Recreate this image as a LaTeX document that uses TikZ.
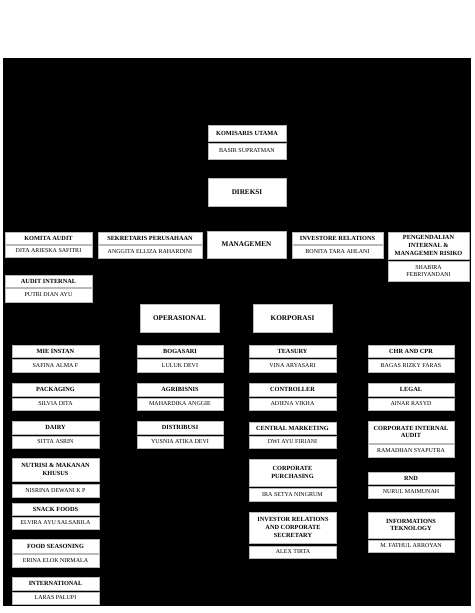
\documentclass[tikz,border=0pt]{standalone}
\usepackage{fontspec}
\setmainfont{Liberation Serif}
\usepackage{tikz}
\usetikzlibrary{positioning}

\begin{document}
\begin{tikzpicture}[
    x=1pt, y=-1pt,
    titlebox/.style = {rectangle, draw=gray!55, line width=0.6pt, fill=white, align=center, inner sep=0pt, font=\fontsize{6.3}{7.6}\selectfont\bfseries, minimum width=87pt, minimum height=12pt},
    namebox/.style = {rectangle, draw=gray!55, line width=0.6pt, fill=white, align=center, inner sep=0pt, font=\fontsize{6}{7.4}\selectfont, minimum width=87pt, minimum height=13pt},
    headbox/.style = {rectangle, draw=gray!55, line width=0.6pt, fill=white, align=center, inner sep=0pt, font=\fontsize{7.2}{8.5}\selectfont\bfseries, minimum width=79pt, minimum height=28pt}
]
\useasboundingbox (0,0) rectangle (474,613);
\fill[black] (3,58) rectangle (471,606);

% Top: Komisaris and Direksi
\node (komisaris) [titlebox, minimum width=78pt, minimum height=16pt] at (247, 133) {KOMISARIS UTAMA};
\node (komisaris_nm) [namebox, minimum width=78pt, minimum height=16pt] at (247, 151) {BASIR SUPRATMAN};
\node (direksi) [headbox, minimum width=78pt] at (247, 192) {DIREKSI};

% Row under Direksi
\node (komite) [titlebox] at (48.5, 238) {KOMITA AUDIT};
\node (komite_nm) [namebox, minimum height=12pt] at (48.5, 251) {DITA ARIESKA SAFITRI};
\node (sekretaris) [titlebox, minimum width=104pt] at (150, 238) {SEKRETARIS PERUSAHAAN};
\node (sekretaris_nm) [namebox, minimum width=104pt] at (150, 251.5) {ANGGITA ELLIZA RAHARDINI};
\node (managemen) [headbox, minimum height=27pt] at (246.5, 244.5) {MANAGEMEN};
\node (investore) [titlebox, minimum width=91pt] at (337.5, 238) {INVESTORE RELATIONS};
\node (investore_nm) [namebox, minimum width=91pt] at (337.5, 251.5) {BONITA TARA AHLANI};
\node (pengendalian) [titlebox, minimum width=81pt, minimum height=27pt] at (428.5, 245.5) {PENGENDALIAN\\INTERNAL \&\\MANAGEMEN RISIKO};
\node (pengendalian_nm) [namebox, minimum width=81pt, minimum height=20pt] at (428.5, 271) {SHABIRA\\FEBRIYANDANI};
\node (auditint) [titlebox] at (48.5, 281) {AUDIT INTERNAL};
\node (auditint_nm) [namebox, minimum height=14pt] at (48.5, 295) {PUTRI DIAN AYU};

% Operasional and Korporasi
\node (operasional) [headbox] at (179.5, 318) {OPERASIONAL};
\node (korporasi) [headbox] at (292.5, 318) {KORPORASI};

% Operasional units (x = 55.5 and x = 180)
\node (mie) [titlebox] at (55.5, 351) {MIE INSTAN};
\node (mie_nm) [namebox] at (55.5, 365.5) {SAFINA ALMA F};
\node (packaging) [titlebox, minimum height=13pt] at (55.5, 389.5) {PACKAGING};
\node (packaging_nm) [namebox, minimum height=12pt] at (55.5, 404) {SILVIA DITA};
\node (dairy) [titlebox, minimum height=13pt] at (55.5, 427.5) {DAIRY};
\node (dairy_nm) [namebox, minimum height=12pt] at (55.5, 442) {SITTA ASRIN};
\node (nutrisi) [titlebox, minimum height=23pt] at (55.5, 469.5) {NUTRISI \& MAKANAN\\KHUSUS};
\node (nutrisi_nm) [namebox] at (55.5, 490.5) {NISRINA DEWANI K P};
\node (snack) [titlebox] at (55.5, 509) {SNACK FOODS};
\node (snack_nm) [namebox, minimum height=12pt] at (55.5, 523) {ELVIRA AYU SALSABILA};
\node (seasoning) [titlebox, minimum height=14pt] at (55.5, 546) {FOOD SEASONING};
\node (seasoning_nm) [namebox] at (55.5, 560.5) {ERINA ELOK NIRMALA};
\node (internasional) [titlebox, minimum height=13pt] at (55.5, 583.5) {INTERNATIONAL};
\node (internasional_nm) [namebox, minimum height=12pt] at (55.5, 598) {LARAS PALUPI};

\node (bogasari) [titlebox, minimum width=86pt] at (180, 351) {BOGASARI};
\node (bogasari_nm) [namebox, minimum width=86pt] at (180, 365.5) {LULUK DEVI};
\node (agribisnis) [titlebox, minimum width=86pt, minimum height=13pt] at (180, 389.5) {AGRIBISNIS};
\node (agribisnis_nm) [namebox, minimum width=86pt, minimum height=12pt] at (180, 404) {MAHARDIKA ANGGIE};
\node (distribusi) [titlebox, minimum width=86pt, minimum height=13pt] at (180, 427.5) {DISTRIBUSI};
\node (distribusi_nm) [namebox, minimum width=86pt, minimum height=12pt] at (180, 442) {YUSNIA ATIKA DEVI};

% Korporasi units (x = 292.5 and x = 411)
\node (teasury) [titlebox] at (292.5, 351) {TEASURY};
\node (teasury_nm) [namebox] at (292.5, 365.5) {VINA ARYASARI};
\node (controller) [titlebox, minimum height=13pt] at (292.5, 389.5) {CONTROLLER};
\node (controller_nm) [namebox, minimum height=12pt] at (292.5, 404) {ADIENA VIKHA};
\node (marketing) [titlebox] at (292.5, 428) {CENTRAL MARKETING};
\node (marketing_nm) [namebox, minimum height=12pt] at (292.5, 442) {DWI AYU FIRIANI};
\node (purchasing) [titlebox, minimum height=27pt] at (292.5, 472.5) {CORPORATE\\PURCHASING};
\node (purchasing_nm) [namebox] at (292.5, 494.5) {IRA SETYA NINGRUM};
\node (irsecretary) [titlebox, minimum height=31pt] at (293, 527.5) {INVESTOR RELATIONS\\AND CORPORATE\\SECRETARY};
\node (irsecretary_nm) [namebox, minimum height=12pt] at (293, 552) {ALEX TIRTA};

\node (chr) [titlebox, minimum width=86pt] at (411, 351) {CHR AND CPR};
\node (chr_nm) [namebox, minimum width=86pt] at (411, 365.5) {BAGAS RIZKY FARAS};
\node (legal) [titlebox, minimum width=86pt, minimum height=13pt] at (411, 389.5) {LEGAL};
\node (legal_nm) [namebox, minimum width=86pt, minimum height=12pt] at (411, 404) {AINAR RASYD};
\node (corpaudit) [titlebox, minimum width=86pt, minimum height=22pt] at (411, 432) {CORPORATE INTERNAL\\AUDIT};
\node (corpaudit_nm) [namebox, minimum width=86pt] at (411, 450.5) {RAMADHAN SYAPUTRA};
\node (rnd) [titlebox, minimum width=86pt] at (411, 478) {RND};
\node (rnd_nm) [namebox, minimum width=86pt, minimum height=12pt] at (411, 492) {NURUL MAIMUNAH};
\node (it) [titlebox, minimum width=86pt, minimum height=26pt] at (411, 525) {INFORMATIONS\\TEKNOLOGY};
\node (it_nm) [namebox, minimum width=86pt, minimum height=12pt] at (411, 546) {M. FATHUL ARROYAN};

\end{tikzpicture}
\end{document}
